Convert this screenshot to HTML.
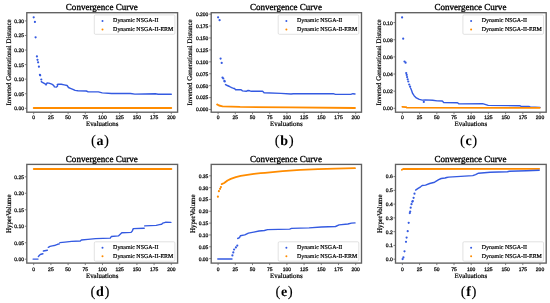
<!DOCTYPE html><html><head><meta charset="utf-8"><style>html,body{margin:0;padding:0;background:#fff;}svg{display:block;text-rendering:geometricPrecision;filter:blur(0.3px);}</style></head><body>
<svg width="550" height="303" viewBox="0 0 550 303">
<rect width="550" height="303" fill="#fff"/>
<clipPath id="clipa"><rect x="26.80" y="12.70" width="150.80" height="99.50"/></clipPath>
<g clip-path="url(#clipa)">
<polyline points="41.3,81.6 42.4,82.4 45.6,84.2 46.0,85.0 47.1,82.9 48.9,83.1 51.8,84.2 53.6,85.3 54.4,86.9 56.5,87.1 57.6,86.0 57.3,84.5 58.4,84.2 61.3,84.3 64.2,84.9 67.1,85.5 68.5,87.5 70.4,88.3 72.9,89.3 75.1,90.4 78.0,90.7 86.3,91.0 88.2,91.9 98.4,91.9 102.2,92.9 111.6,93.5 130.5,93.5 134.9,94.1 155.3,93.8 158.2,94.3 171.3,94.3" fill="none" stroke="#345ae1" stroke-width="1.4" stroke-linejoin="round" stroke-linecap="round"/>
<circle cx="33.7" cy="17.3" r="1.1" fill="#345ae1"/>
<circle cx="34.9" cy="21.9" r="1.1" fill="#345ae1"/>
<circle cx="35.6" cy="37.3" r="1.1" fill="#345ae1"/>
<circle cx="36.9" cy="56.4" r="1.1" fill="#345ae1"/>
<circle cx="37.5" cy="59.8" r="1.1" fill="#345ae1"/>
<circle cx="38.1" cy="62.3" r="1.1" fill="#345ae1"/>
<circle cx="38.9" cy="66.7" r="1.1" fill="#345ae1"/>
<circle cx="39.9" cy="74.8" r="1.1" fill="#345ae1"/>
<circle cx="40.2" cy="75.3" r="1.1" fill="#345ae1"/>
<circle cx="41.3" cy="79.5" r="1.1" fill="#345ae1"/>
<polyline points="33.7,108.0 171.3,108.0" fill="none" stroke="#ff8c00" stroke-width="1.8" stroke-linejoin="round" stroke-linecap="round"/>
</g>
<rect x="26.80" y="12.70" width="150.80" height="99.50" fill="none" stroke="#606060" stroke-width="1.35"/>
<line x1="33.70" y1="112.20" x2="33.70" y2="114.20" stroke="#606060" stroke-width="0.8"/>
<text x="33.70" y="119.10" font-family='"Liberation Sans", "DejaVu Sans", sans-serif' font-size="5.0" text-anchor="middle" fill="#111" stroke="#111" stroke-width="0.28">0</text>
<line x1="50.90" y1="112.20" x2="50.90" y2="114.20" stroke="#606060" stroke-width="0.8"/>
<text x="50.90" y="119.10" font-family='"Liberation Sans", "DejaVu Sans", sans-serif' font-size="5.0" text-anchor="middle" fill="#111" stroke="#111" stroke-width="0.28">25</text>
<line x1="68.10" y1="112.20" x2="68.10" y2="114.20" stroke="#606060" stroke-width="0.8"/>
<text x="68.10" y="119.10" font-family='"Liberation Sans", "DejaVu Sans", sans-serif' font-size="5.0" text-anchor="middle" fill="#111" stroke="#111" stroke-width="0.28">50</text>
<line x1="85.30" y1="112.20" x2="85.30" y2="114.20" stroke="#606060" stroke-width="0.8"/>
<text x="85.30" y="119.10" font-family='"Liberation Sans", "DejaVu Sans", sans-serif' font-size="5.0" text-anchor="middle" fill="#111" stroke="#111" stroke-width="0.28">75</text>
<line x1="102.50" y1="112.20" x2="102.50" y2="114.20" stroke="#606060" stroke-width="0.8"/>
<text x="102.50" y="119.10" font-family='"Liberation Sans", "DejaVu Sans", sans-serif' font-size="5.0" text-anchor="middle" fill="#111" stroke="#111" stroke-width="0.28">100</text>
<line x1="119.70" y1="112.20" x2="119.70" y2="114.20" stroke="#606060" stroke-width="0.8"/>
<text x="119.70" y="119.10" font-family='"Liberation Sans", "DejaVu Sans", sans-serif' font-size="5.0" text-anchor="middle" fill="#111" stroke="#111" stroke-width="0.28">125</text>
<line x1="136.90" y1="112.20" x2="136.90" y2="114.20" stroke="#606060" stroke-width="0.8"/>
<text x="136.90" y="119.10" font-family='"Liberation Sans", "DejaVu Sans", sans-serif' font-size="5.0" text-anchor="middle" fill="#111" stroke="#111" stroke-width="0.28">150</text>
<line x1="154.10" y1="112.20" x2="154.10" y2="114.20" stroke="#606060" stroke-width="0.8"/>
<text x="154.10" y="119.10" font-family='"Liberation Sans", "DejaVu Sans", sans-serif' font-size="5.0" text-anchor="middle" fill="#111" stroke="#111" stroke-width="0.28">175</text>
<line x1="171.30" y1="112.20" x2="171.30" y2="114.20" stroke="#606060" stroke-width="0.8"/>
<text x="171.30" y="119.10" font-family='"Liberation Sans", "DejaVu Sans", sans-serif' font-size="5.0" text-anchor="middle" fill="#111" stroke="#111" stroke-width="0.28">200</text>
<line x1="24.80" y1="108.30" x2="26.80" y2="108.30" stroke="#606060" stroke-width="0.8"/>
<text x="24.00" y="110.20" font-family='"Liberation Sans", "DejaVu Sans", sans-serif' font-size="5.0" text-anchor="end" fill="#111" stroke="#111" stroke-width="0.28">0.00</text>
<line x1="24.80" y1="93.73" x2="26.80" y2="93.73" stroke="#606060" stroke-width="0.8"/>
<text x="24.00" y="95.64" font-family='"Liberation Sans", "DejaVu Sans", sans-serif' font-size="5.0" text-anchor="end" fill="#111" stroke="#111" stroke-width="0.28">0.05</text>
<line x1="24.80" y1="79.17" x2="26.80" y2="79.17" stroke="#606060" stroke-width="0.8"/>
<text x="24.00" y="81.07" font-family='"Liberation Sans", "DejaVu Sans", sans-serif' font-size="5.0" text-anchor="end" fill="#111" stroke="#111" stroke-width="0.28">0.10</text>
<line x1="24.80" y1="64.60" x2="26.80" y2="64.60" stroke="#606060" stroke-width="0.8"/>
<text x="24.00" y="66.50" font-family='"Liberation Sans", "DejaVu Sans", sans-serif' font-size="5.0" text-anchor="end" fill="#111" stroke="#111" stroke-width="0.28">0.15</text>
<line x1="24.80" y1="50.04" x2="26.80" y2="50.04" stroke="#606060" stroke-width="0.8"/>
<text x="24.00" y="51.94" font-family='"Liberation Sans", "DejaVu Sans", sans-serif' font-size="5.0" text-anchor="end" fill="#111" stroke="#111" stroke-width="0.28">0.20</text>
<line x1="24.80" y1="35.47" x2="26.80" y2="35.47" stroke="#606060" stroke-width="0.8"/>
<text x="24.00" y="37.37" font-family='"Liberation Sans", "DejaVu Sans", sans-serif' font-size="5.0" text-anchor="end" fill="#111" stroke="#111" stroke-width="0.28">0.25</text>
<line x1="24.80" y1="20.91" x2="26.80" y2="20.91" stroke="#606060" stroke-width="0.8"/>
<text x="24.00" y="22.81" font-family='"Liberation Sans", "DejaVu Sans", sans-serif' font-size="5.0" text-anchor="end" fill="#111" stroke="#111" stroke-width="0.28">0.30</text>
<text x="101.80" y="10.10" font-family='"Liberation Serif", "Times New Roman", serif' font-size="9.05" text-anchor="middle" fill="#000" stroke="#000" stroke-width="0.3">Convergence Curve</text>
<text x="102.20" y="126.40" font-family='"Liberation Serif", "Times New Roman", serif' font-size="6.9" text-anchor="middle" fill="#000" stroke="#000" stroke-width="0.2">Evaluations</text>
<text transform="translate(10.90,62.45) rotate(-90)" x="0" y="0" font-family='"Liberation Serif", "Times New Roman", serif' font-size="6.9" text-anchor="middle" fill="#000" stroke="#000" stroke-width="0.2">Inverted Generational Distance</text>
<rect x="94.30" y="14.90" width="80.6" height="19.4" rx="1.2" fill="#fff" fill-opacity="0.8" stroke="#d6d6d6" stroke-width="0.7"/>
<circle cx="102.50" cy="20.90" r="1.0" fill="#345ae1"/>
<circle cx="102.50" cy="29.40" r="1.0" fill="#ff8c00"/>
<text x="113.10" y="22.40" font-family='"Liberation Serif", "Times New Roman", serif' font-size="5.95" fill="#000" stroke="#000" stroke-width="0.18">Dynamic NSGA-II</text>
<text x="113.10" y="30.60" font-family='"Liberation Serif", "Times New Roman", serif' font-size="5.95" fill="#000" stroke="#000" stroke-width="0.18">Dynamic NSGA-II-ERM</text>
<text x="100.00" y="144.90" font-family='"Liberation Serif", "Times New Roman", serif' font-size="14.8" text-anchor="middle" fill="#000" stroke="#000" stroke-width="0.08">(<tspan dx="0.6" font-size="14" font-weight="bold" stroke-width="0.05">a</tspan><tspan dx="0.6">)</tspan></text>
<clipPath id="clipb"><rect x="211.20" y="12.70" width="150.30" height="99.50"/></clipPath>
<g clip-path="url(#clipb)">
<polyline points="225.5,84.6 227.3,85.5 229.5,86.5 231.6,87.6 233.1,88.2 234.5,88.5 235.6,89.7 241.1,89.8 242.5,90.9 246.2,91.3 248.0,90.5 249.8,90.8 251.3,91.3 262.6,91.3 264.1,92.8 280.8,93.4 291.0,94.0 293.4,93.7 333.3,93.7 335.4,94.4 350.8,94.4 352.9,93.7 355.0,94.0" fill="none" stroke="#345ae1" stroke-width="1.4" stroke-linejoin="round" stroke-linecap="round"/>
<circle cx="218.1" cy="17.3" r="1.1" fill="#345ae1"/>
<circle cx="219.6" cy="20.2" r="1.1" fill="#345ae1"/>
<circle cx="220.6" cy="58.6" r="1.1" fill="#345ae1"/>
<circle cx="221.7" cy="62.9" r="1.1" fill="#345ae1"/>
<circle cx="222.5" cy="77.6" r="1.1" fill="#345ae1"/>
<circle cx="223.3" cy="78.5" r="1.1" fill="#345ae1"/>
<circle cx="224.4" cy="80.9" r="1.1" fill="#345ae1"/>
<circle cx="224.7" cy="81.5" r="1.1" fill="#345ae1"/>
<polyline points="217.1,104.4 219.0,105.5 222.6,106.3 240.1,106.9 291.0,107.4 355.0,108.0" fill="none" stroke="#ff8c00" stroke-width="1.8" stroke-linejoin="round" stroke-linecap="round"/>
</g>
<rect x="211.20" y="12.70" width="150.30" height="99.50" fill="none" stroke="#606060" stroke-width="1.35"/>
<line x1="218.10" y1="112.20" x2="218.10" y2="114.20" stroke="#606060" stroke-width="0.8"/>
<text x="218.10" y="119.10" font-family='"Liberation Sans", "DejaVu Sans", sans-serif' font-size="5.0" text-anchor="middle" fill="#111" stroke="#111" stroke-width="0.28">0</text>
<line x1="235.30" y1="112.20" x2="235.30" y2="114.20" stroke="#606060" stroke-width="0.8"/>
<text x="235.30" y="119.10" font-family='"Liberation Sans", "DejaVu Sans", sans-serif' font-size="5.0" text-anchor="middle" fill="#111" stroke="#111" stroke-width="0.28">25</text>
<line x1="252.50" y1="112.20" x2="252.50" y2="114.20" stroke="#606060" stroke-width="0.8"/>
<text x="252.50" y="119.10" font-family='"Liberation Sans", "DejaVu Sans", sans-serif' font-size="5.0" text-anchor="middle" fill="#111" stroke="#111" stroke-width="0.28">50</text>
<line x1="269.70" y1="112.20" x2="269.70" y2="114.20" stroke="#606060" stroke-width="0.8"/>
<text x="269.70" y="119.10" font-family='"Liberation Sans", "DejaVu Sans", sans-serif' font-size="5.0" text-anchor="middle" fill="#111" stroke="#111" stroke-width="0.28">75</text>
<line x1="286.90" y1="112.20" x2="286.90" y2="114.20" stroke="#606060" stroke-width="0.8"/>
<text x="286.90" y="119.10" font-family='"Liberation Sans", "DejaVu Sans", sans-serif' font-size="5.0" text-anchor="middle" fill="#111" stroke="#111" stroke-width="0.28">100</text>
<line x1="304.10" y1="112.20" x2="304.10" y2="114.20" stroke="#606060" stroke-width="0.8"/>
<text x="304.10" y="119.10" font-family='"Liberation Sans", "DejaVu Sans", sans-serif' font-size="5.0" text-anchor="middle" fill="#111" stroke="#111" stroke-width="0.28">125</text>
<line x1="321.30" y1="112.20" x2="321.30" y2="114.20" stroke="#606060" stroke-width="0.8"/>
<text x="321.30" y="119.10" font-family='"Liberation Sans", "DejaVu Sans", sans-serif' font-size="5.0" text-anchor="middle" fill="#111" stroke="#111" stroke-width="0.28">150</text>
<line x1="338.50" y1="112.20" x2="338.50" y2="114.20" stroke="#606060" stroke-width="0.8"/>
<text x="338.50" y="119.10" font-family='"Liberation Sans", "DejaVu Sans", sans-serif' font-size="5.0" text-anchor="middle" fill="#111" stroke="#111" stroke-width="0.28">175</text>
<line x1="355.70" y1="112.20" x2="355.70" y2="114.20" stroke="#606060" stroke-width="0.8"/>
<text x="355.70" y="119.10" font-family='"Liberation Sans", "DejaVu Sans", sans-serif' font-size="5.0" text-anchor="middle" fill="#111" stroke="#111" stroke-width="0.28">200</text>
<line x1="209.20" y1="109.50" x2="211.20" y2="109.50" stroke="#606060" stroke-width="0.8"/>
<text x="208.40" y="111.40" font-family='"Liberation Sans", "DejaVu Sans", sans-serif' font-size="5.0" text-anchor="end" fill="#111" stroke="#111" stroke-width="0.28">0.000</text>
<line x1="209.20" y1="97.58" x2="211.20" y2="97.58" stroke="#606060" stroke-width="0.8"/>
<text x="208.40" y="99.48" font-family='"Liberation Sans", "DejaVu Sans", sans-serif' font-size="5.0" text-anchor="end" fill="#111" stroke="#111" stroke-width="0.28">0.025</text>
<line x1="209.20" y1="85.65" x2="211.20" y2="85.65" stroke="#606060" stroke-width="0.8"/>
<text x="208.40" y="87.55" font-family='"Liberation Sans", "DejaVu Sans", sans-serif' font-size="5.0" text-anchor="end" fill="#111" stroke="#111" stroke-width="0.28">0.050</text>
<line x1="209.20" y1="73.72" x2="211.20" y2="73.72" stroke="#606060" stroke-width="0.8"/>
<text x="208.40" y="75.62" font-family='"Liberation Sans", "DejaVu Sans", sans-serif' font-size="5.0" text-anchor="end" fill="#111" stroke="#111" stroke-width="0.28">0.075</text>
<line x1="209.20" y1="61.80" x2="211.20" y2="61.80" stroke="#606060" stroke-width="0.8"/>
<text x="208.40" y="63.70" font-family='"Liberation Sans", "DejaVu Sans", sans-serif' font-size="5.0" text-anchor="end" fill="#111" stroke="#111" stroke-width="0.28">0.100</text>
<line x1="209.20" y1="49.88" x2="211.20" y2="49.88" stroke="#606060" stroke-width="0.8"/>
<text x="208.40" y="51.77" font-family='"Liberation Sans", "DejaVu Sans", sans-serif' font-size="5.0" text-anchor="end" fill="#111" stroke="#111" stroke-width="0.28">0.125</text>
<line x1="209.20" y1="37.95" x2="211.20" y2="37.95" stroke="#606060" stroke-width="0.8"/>
<text x="208.40" y="39.85" font-family='"Liberation Sans", "DejaVu Sans", sans-serif' font-size="5.0" text-anchor="end" fill="#111" stroke="#111" stroke-width="0.28">0.150</text>
<line x1="209.20" y1="26.02" x2="211.20" y2="26.02" stroke="#606060" stroke-width="0.8"/>
<text x="208.40" y="27.92" font-family='"Liberation Sans", "DejaVu Sans", sans-serif' font-size="5.0" text-anchor="end" fill="#111" stroke="#111" stroke-width="0.28">0.175</text>
<line x1="209.20" y1="14.10" x2="211.20" y2="14.10" stroke="#606060" stroke-width="0.8"/>
<text x="208.40" y="16.00" font-family='"Liberation Sans", "DejaVu Sans", sans-serif' font-size="5.0" text-anchor="end" fill="#111" stroke="#111" stroke-width="0.28">0.200</text>
<text x="285.95" y="10.10" font-family='"Liberation Serif", "Times New Roman", serif' font-size="9.05" text-anchor="middle" fill="#000" stroke="#000" stroke-width="0.3">Convergence Curve</text>
<text x="286.35" y="126.40" font-family='"Liberation Serif", "Times New Roman", serif' font-size="6.9" text-anchor="middle" fill="#000" stroke="#000" stroke-width="0.2">Evaluations</text>
<text transform="translate(191.50,62.45) rotate(-90)" x="0" y="0" font-family='"Liberation Serif", "Times New Roman", serif' font-size="6.9" text-anchor="middle" fill="#000" stroke="#000" stroke-width="0.2">Inverted Generational Distance</text>
<rect x="278.20" y="14.90" width="80.6" height="19.4" rx="1.2" fill="#fff" fill-opacity="0.8" stroke="#d6d6d6" stroke-width="0.7"/>
<circle cx="286.40" cy="20.90" r="1.0" fill="#345ae1"/>
<circle cx="286.40" cy="29.40" r="1.0" fill="#ff8c00"/>
<text x="297.00" y="22.40" font-family='"Liberation Serif", "Times New Roman", serif' font-size="5.95" fill="#000" stroke="#000" stroke-width="0.18">Dynamic NSGA-II</text>
<text x="297.00" y="30.60" font-family='"Liberation Serif", "Times New Roman", serif' font-size="5.95" fill="#000" stroke="#000" stroke-width="0.18">Dynamic NSGA-II-ERM</text>
<text x="284.15" y="144.90" font-family='"Liberation Serif", "Times New Roman", serif' font-size="14.8" text-anchor="middle" fill="#000" stroke="#000" stroke-width="0.08">(<tspan dx="0.6" font-size="14" font-weight="bold" stroke-width="0.05">b</tspan><tspan dx="0.6">)</tspan></text>
<clipPath id="clipc"><rect x="395.50" y="12.70" width="150.70" height="99.50"/></clipPath>
<g clip-path="url(#clipc)">
<polyline points="410.7,88.2 411.6,90.5 412.6,93.4 414.1,95.7 416.3,97.9 419.3,99.4 422.3,100.1 425.3,99.9 432.7,100.2 437.1,100.9 442.3,101.0 443.7,102.5 457.5,102.7 459.0,103.9 482.6,103.6 488.2,105.4 519.7,105.7 521.1,106.4 528.8,106.4 530.2,107.0 540.0,107.4" fill="none" stroke="#345ae1" stroke-width="1.4" stroke-linejoin="round" stroke-linecap="round"/>
<circle cx="402.1" cy="17.4" r="1.1" fill="#345ae1"/>
<circle cx="403.2" cy="38.7" r="1.1" fill="#345ae1"/>
<circle cx="404.5" cy="61.5" r="1.1" fill="#345ae1"/>
<circle cx="405.6" cy="62.7" r="1.1" fill="#345ae1"/>
<circle cx="406.2" cy="73.1" r="1.1" fill="#345ae1"/>
<circle cx="406.7" cy="74.9" r="1.1" fill="#345ae1"/>
<circle cx="407.1" cy="77.1" r="1.1" fill="#345ae1"/>
<circle cx="407.7" cy="79.3" r="1.1" fill="#345ae1"/>
<circle cx="408.3" cy="81.5" r="1.1" fill="#345ae1"/>
<circle cx="409.2" cy="84.5" r="1.1" fill="#345ae1"/>
<circle cx="410.1" cy="86.7" r="1.1" fill="#345ae1"/>
<circle cx="423.8" cy="101.9" r="1.1" fill="#345ae1"/>
<polyline points="402.3,106.8 405.9,107.1 406.6,107.6 539.6,107.9" fill="none" stroke="#ff8c00" stroke-width="1.8" stroke-linejoin="round" stroke-linecap="round"/>
</g>
<rect x="395.50" y="12.70" width="150.70" height="99.50" fill="none" stroke="#606060" stroke-width="1.35"/>
<line x1="402.40" y1="112.20" x2="402.40" y2="114.20" stroke="#606060" stroke-width="0.8"/>
<text x="402.40" y="119.10" font-family='"Liberation Sans", "DejaVu Sans", sans-serif' font-size="5.0" text-anchor="middle" fill="#111" stroke="#111" stroke-width="0.28">0</text>
<line x1="419.60" y1="112.20" x2="419.60" y2="114.20" stroke="#606060" stroke-width="0.8"/>
<text x="419.60" y="119.10" font-family='"Liberation Sans", "DejaVu Sans", sans-serif' font-size="5.0" text-anchor="middle" fill="#111" stroke="#111" stroke-width="0.28">25</text>
<line x1="436.80" y1="112.20" x2="436.80" y2="114.20" stroke="#606060" stroke-width="0.8"/>
<text x="436.80" y="119.10" font-family='"Liberation Sans", "DejaVu Sans", sans-serif' font-size="5.0" text-anchor="middle" fill="#111" stroke="#111" stroke-width="0.28">50</text>
<line x1="454.00" y1="112.20" x2="454.00" y2="114.20" stroke="#606060" stroke-width="0.8"/>
<text x="454.00" y="119.10" font-family='"Liberation Sans", "DejaVu Sans", sans-serif' font-size="5.0" text-anchor="middle" fill="#111" stroke="#111" stroke-width="0.28">75</text>
<line x1="471.20" y1="112.20" x2="471.20" y2="114.20" stroke="#606060" stroke-width="0.8"/>
<text x="471.20" y="119.10" font-family='"Liberation Sans", "DejaVu Sans", sans-serif' font-size="5.0" text-anchor="middle" fill="#111" stroke="#111" stroke-width="0.28">100</text>
<line x1="488.40" y1="112.20" x2="488.40" y2="114.20" stroke="#606060" stroke-width="0.8"/>
<text x="488.40" y="119.10" font-family='"Liberation Sans", "DejaVu Sans", sans-serif' font-size="5.0" text-anchor="middle" fill="#111" stroke="#111" stroke-width="0.28">125</text>
<line x1="505.60" y1="112.20" x2="505.60" y2="114.20" stroke="#606060" stroke-width="0.8"/>
<text x="505.60" y="119.10" font-family='"Liberation Sans", "DejaVu Sans", sans-serif' font-size="5.0" text-anchor="middle" fill="#111" stroke="#111" stroke-width="0.28">150</text>
<line x1="522.80" y1="112.20" x2="522.80" y2="114.20" stroke="#606060" stroke-width="0.8"/>
<text x="522.80" y="119.10" font-family='"Liberation Sans", "DejaVu Sans", sans-serif' font-size="5.0" text-anchor="middle" fill="#111" stroke="#111" stroke-width="0.28">175</text>
<line x1="540.00" y1="112.20" x2="540.00" y2="114.20" stroke="#606060" stroke-width="0.8"/>
<text x="540.00" y="119.10" font-family='"Liberation Sans", "DejaVu Sans", sans-serif' font-size="5.0" text-anchor="middle" fill="#111" stroke="#111" stroke-width="0.28">200</text>
<line x1="393.50" y1="108.30" x2="395.50" y2="108.30" stroke="#606060" stroke-width="0.8"/>
<text x="392.70" y="110.20" font-family='"Liberation Sans", "DejaVu Sans", sans-serif' font-size="5.0" text-anchor="end" fill="#111" stroke="#111" stroke-width="0.28">0.00</text>
<line x1="393.50" y1="91.16" x2="395.50" y2="91.16" stroke="#606060" stroke-width="0.8"/>
<text x="392.70" y="93.06" font-family='"Liberation Sans", "DejaVu Sans", sans-serif' font-size="5.0" text-anchor="end" fill="#111" stroke="#111" stroke-width="0.28">0.02</text>
<line x1="393.50" y1="74.02" x2="395.50" y2="74.02" stroke="#606060" stroke-width="0.8"/>
<text x="392.70" y="75.92" font-family='"Liberation Sans", "DejaVu Sans", sans-serif' font-size="5.0" text-anchor="end" fill="#111" stroke="#111" stroke-width="0.28">0.04</text>
<line x1="393.50" y1="56.88" x2="395.50" y2="56.88" stroke="#606060" stroke-width="0.8"/>
<text x="392.70" y="58.78" font-family='"Liberation Sans", "DejaVu Sans", sans-serif' font-size="5.0" text-anchor="end" fill="#111" stroke="#111" stroke-width="0.28">0.06</text>
<line x1="393.50" y1="39.74" x2="395.50" y2="39.74" stroke="#606060" stroke-width="0.8"/>
<text x="392.70" y="41.64" font-family='"Liberation Sans", "DejaVu Sans", sans-serif' font-size="5.0" text-anchor="end" fill="#111" stroke="#111" stroke-width="0.28">0.08</text>
<line x1="393.50" y1="22.60" x2="395.50" y2="22.60" stroke="#606060" stroke-width="0.8"/>
<text x="392.70" y="24.50" font-family='"Liberation Sans", "DejaVu Sans", sans-serif' font-size="5.0" text-anchor="end" fill="#111" stroke="#111" stroke-width="0.28">0.10</text>
<text x="470.45" y="10.10" font-family='"Liberation Serif", "Times New Roman", serif' font-size="9.05" text-anchor="middle" fill="#000" stroke="#000" stroke-width="0.3">Convergence Curve</text>
<text x="470.85" y="126.40" font-family='"Liberation Serif", "Times New Roman", serif' font-size="6.9" text-anchor="middle" fill="#000" stroke="#000" stroke-width="0.2">Evaluations</text>
<text transform="translate(380.50,62.45) rotate(-90)" x="0" y="0" font-family='"Liberation Serif", "Times New Roman", serif' font-size="6.9" text-anchor="middle" fill="#000" stroke="#000" stroke-width="0.2">Inverted Generational Distance</text>
<rect x="462.90" y="14.90" width="80.6" height="19.4" rx="1.2" fill="#fff" fill-opacity="0.8" stroke="#d6d6d6" stroke-width="0.7"/>
<circle cx="471.10" cy="20.90" r="1.0" fill="#345ae1"/>
<circle cx="471.10" cy="29.40" r="1.0" fill="#ff8c00"/>
<text x="481.70" y="22.40" font-family='"Liberation Serif", "Times New Roman", serif' font-size="5.95" fill="#000" stroke="#000" stroke-width="0.18">Dynamic NSGA-II</text>
<text x="481.70" y="30.60" font-family='"Liberation Serif", "Times New Roman", serif' font-size="5.95" fill="#000" stroke="#000" stroke-width="0.18">Dynamic NSGA-II-ERM</text>
<text x="468.65" y="144.90" font-family='"Liberation Serif", "Times New Roman", serif' font-size="14.8" text-anchor="middle" fill="#000" stroke="#000" stroke-width="0.08">(<tspan dx="0.6" font-size="14" font-weight="bold" stroke-width="0.05">c</tspan><tspan dx="0.6">)</tspan></text>
<clipPath id="clipd"><rect x="26.80" y="164.40" width="150.80" height="98.70"/></clipPath>
<g clip-path="url(#clipd)">
<polyline points="33.1,259.1 38.0,259.1" fill="none" stroke="#345ae1" stroke-width="1.4" stroke-linejoin="round" stroke-linecap="round"/>
<polyline points="38.4,256.4 39.7,255.0 41.0,254.2 42.9,253.7" fill="none" stroke="#345ae1" stroke-width="1.4" stroke-linejoin="round" stroke-linecap="round"/>
<polyline points="43.4,251.0 47.4,250.2" fill="none" stroke="#345ae1" stroke-width="1.4" stroke-linejoin="round" stroke-linecap="round"/>
<polyline points="48.3,247.3 50.0,246.4 52.3,245.9 55.4,245.2 57.6,244.3 59.4,243.9" fill="none" stroke="#345ae1" stroke-width="1.4" stroke-linejoin="round" stroke-linecap="round"/>
<polyline points="59.9,242.6 65.0,242.1 71.5,241.4 80.3,241.0 81.4,240.0 87.9,239.4 95.5,238.6 110.3,238.1 111.3,236.5 118.4,235.9 121.8,232.8 131.1,232.4 132.2,231.1 133.3,228.6 144.2,228.3" fill="none" stroke="#345ae1" stroke-width="1.4" stroke-linejoin="round" stroke-linecap="round"/>
<polyline points="144.7,225.9 156.2,225.4 159.4,224.6 161.6,224.3 162.7,223.2 165.4,222.3 170.9,222.4" fill="none" stroke="#345ae1" stroke-width="1.4" stroke-linejoin="round" stroke-linecap="round"/>
<polyline points="33.8,169.1 171.3,169.1" fill="none" stroke="#ff8c00" stroke-width="2.0" stroke-linejoin="round" stroke-linecap="round"/>
</g>
<rect x="26.80" y="164.40" width="150.80" height="98.70" fill="none" stroke="#606060" stroke-width="1.35"/>
<line x1="33.70" y1="263.10" x2="33.70" y2="265.10" stroke="#606060" stroke-width="0.8"/>
<text x="33.70" y="270.50" font-family='"Liberation Sans", "DejaVu Sans", sans-serif' font-size="5.0" text-anchor="middle" fill="#111" stroke="#111" stroke-width="0.28">0</text>
<line x1="50.90" y1="263.10" x2="50.90" y2="265.10" stroke="#606060" stroke-width="0.8"/>
<text x="50.90" y="270.50" font-family='"Liberation Sans", "DejaVu Sans", sans-serif' font-size="5.0" text-anchor="middle" fill="#111" stroke="#111" stroke-width="0.28">25</text>
<line x1="68.10" y1="263.10" x2="68.10" y2="265.10" stroke="#606060" stroke-width="0.8"/>
<text x="68.10" y="270.50" font-family='"Liberation Sans", "DejaVu Sans", sans-serif' font-size="5.0" text-anchor="middle" fill="#111" stroke="#111" stroke-width="0.28">50</text>
<line x1="85.30" y1="263.10" x2="85.30" y2="265.10" stroke="#606060" stroke-width="0.8"/>
<text x="85.30" y="270.50" font-family='"Liberation Sans", "DejaVu Sans", sans-serif' font-size="5.0" text-anchor="middle" fill="#111" stroke="#111" stroke-width="0.28">75</text>
<line x1="102.50" y1="263.10" x2="102.50" y2="265.10" stroke="#606060" stroke-width="0.8"/>
<text x="102.50" y="270.50" font-family='"Liberation Sans", "DejaVu Sans", sans-serif' font-size="5.0" text-anchor="middle" fill="#111" stroke="#111" stroke-width="0.28">100</text>
<line x1="119.70" y1="263.10" x2="119.70" y2="265.10" stroke="#606060" stroke-width="0.8"/>
<text x="119.70" y="270.50" font-family='"Liberation Sans", "DejaVu Sans", sans-serif' font-size="5.0" text-anchor="middle" fill="#111" stroke="#111" stroke-width="0.28">125</text>
<line x1="136.90" y1="263.10" x2="136.90" y2="265.10" stroke="#606060" stroke-width="0.8"/>
<text x="136.90" y="270.50" font-family='"Liberation Sans", "DejaVu Sans", sans-serif' font-size="5.0" text-anchor="middle" fill="#111" stroke="#111" stroke-width="0.28">150</text>
<line x1="154.10" y1="263.10" x2="154.10" y2="265.10" stroke="#606060" stroke-width="0.8"/>
<text x="154.10" y="270.50" font-family='"Liberation Sans", "DejaVu Sans", sans-serif' font-size="5.0" text-anchor="middle" fill="#111" stroke="#111" stroke-width="0.28">175</text>
<line x1="171.30" y1="263.10" x2="171.30" y2="265.10" stroke="#606060" stroke-width="0.8"/>
<text x="171.30" y="270.50" font-family='"Liberation Sans", "DejaVu Sans", sans-serif' font-size="5.0" text-anchor="middle" fill="#111" stroke="#111" stroke-width="0.28">200</text>
<line x1="24.80" y1="259.20" x2="26.80" y2="259.20" stroke="#606060" stroke-width="0.8"/>
<text x="24.00" y="261.10" font-family='"Liberation Sans", "DejaVu Sans", sans-serif' font-size="5.0" text-anchor="end" fill="#111" stroke="#111" stroke-width="0.28">0.00</text>
<line x1="24.80" y1="242.72" x2="26.80" y2="242.72" stroke="#606060" stroke-width="0.8"/>
<text x="24.00" y="244.62" font-family='"Liberation Sans", "DejaVu Sans", sans-serif' font-size="5.0" text-anchor="end" fill="#111" stroke="#111" stroke-width="0.28">0.05</text>
<line x1="24.80" y1="226.24" x2="26.80" y2="226.24" stroke="#606060" stroke-width="0.8"/>
<text x="24.00" y="228.14" font-family='"Liberation Sans", "DejaVu Sans", sans-serif' font-size="5.0" text-anchor="end" fill="#111" stroke="#111" stroke-width="0.28">0.10</text>
<line x1="24.80" y1="209.76" x2="26.80" y2="209.76" stroke="#606060" stroke-width="0.8"/>
<text x="24.00" y="211.66" font-family='"Liberation Sans", "DejaVu Sans", sans-serif' font-size="5.0" text-anchor="end" fill="#111" stroke="#111" stroke-width="0.28">0.15</text>
<line x1="24.80" y1="193.28" x2="26.80" y2="193.28" stroke="#606060" stroke-width="0.8"/>
<text x="24.00" y="195.18" font-family='"Liberation Sans", "DejaVu Sans", sans-serif' font-size="5.0" text-anchor="end" fill="#111" stroke="#111" stroke-width="0.28">0.20</text>
<line x1="24.80" y1="176.80" x2="26.80" y2="176.80" stroke="#606060" stroke-width="0.8"/>
<text x="24.00" y="178.70" font-family='"Liberation Sans", "DejaVu Sans", sans-serif' font-size="5.0" text-anchor="end" fill="#111" stroke="#111" stroke-width="0.28">0.25</text>
<text x="101.80" y="161.80" font-family='"Liberation Serif", "Times New Roman", serif' font-size="9.05" text-anchor="middle" fill="#000" stroke="#000" stroke-width="0.3">Convergence Curve</text>
<text x="102.20" y="277.80" font-family='"Liberation Serif", "Times New Roman", serif' font-size="6.9" text-anchor="middle" fill="#000" stroke="#000" stroke-width="0.2">Evaluations</text>
<text transform="translate(10.90,213.75) rotate(-90)" x="0" y="0" font-family='"Liberation Serif", "Times New Roman", serif' font-size="6.9" text-anchor="middle" fill="#000" stroke="#000" stroke-width="0.2">HyperVolume</text>
<rect x="94.30" y="241.80" width="80.6" height="19.4" rx="1.2" fill="#fff" fill-opacity="0.8" stroke="#d6d6d6" stroke-width="0.7"/>
<circle cx="102.50" cy="247.80" r="1.0" fill="#345ae1"/>
<circle cx="102.50" cy="256.30" r="1.0" fill="#ff8c00"/>
<text x="113.10" y="249.30" font-family='"Liberation Serif", "Times New Roman", serif' font-size="5.95" fill="#000" stroke="#000" stroke-width="0.18">Dynamic NSGA-II</text>
<text x="113.10" y="257.50" font-family='"Liberation Serif", "Times New Roman", serif' font-size="5.95" fill="#000" stroke="#000" stroke-width="0.18">Dynamic NSGA-II-ERM</text>
<text x="100.00" y="295.80" font-family='"Liberation Serif", "Times New Roman", serif' font-size="14.8" text-anchor="middle" fill="#000" stroke="#000" stroke-width="0.08">(<tspan dx="0.6" font-size="14" font-weight="bold" stroke-width="0.05">d</tspan><tspan dx="0.6">)</tspan></text>
<clipPath id="clipe"><rect x="211.20" y="164.40" width="150.30" height="98.70"/></clipPath>
<g clip-path="url(#clipe)">
<polyline points="221.7,184.1 224.2,183.0 227.5,180.5 230.8,178.9 235.8,177.2 240.7,175.9 247.3,174.9 253.9,173.9 260.5,173.2 265.0,172.8 282.6,171.1 300.3,169.8 317.9,169.1 335.5,168.6 355.0,168.2" fill="none" stroke="#ff8c00" stroke-width="1.8" stroke-linejoin="round" stroke-linecap="round"/>
<circle cx="217.9" cy="196.7" r="1.1" fill="#ff8c00"/>
<circle cx="218.9" cy="191.2" r="1.1" fill="#ff8c00"/>
<circle cx="220.1" cy="188.8" r="1.1" fill="#ff8c00"/>
<circle cx="220.9" cy="187.1" r="1.1" fill="#ff8c00"/>
<polyline points="217.8,259.0 232.0,259.0" fill="none" stroke="#345ae1" stroke-width="1.4" stroke-linejoin="round" stroke-linecap="round"/>
<polyline points="237.7,238.5 239.5,237.6 240.4,235.8 244.8,234.9 248.4,233.1 253.7,232.1 259.1,231.0 264.4,230.5 267.6,229.6 289.7,229.1 291.5,228.4 309.1,227.9 321.4,227.0 335.5,226.5 339.1,224.9 347.9,224.0 351.4,223.1 355.0,222.9" fill="none" stroke="#345ae1" stroke-width="1.4" stroke-linejoin="round" stroke-linecap="round"/>
<circle cx="232.4" cy="255.4" r="1.1" fill="#345ae1"/>
<circle cx="233.3" cy="252.4" r="1.1" fill="#345ae1"/>
<circle cx="234.1" cy="249.5" r="1.1" fill="#345ae1"/>
<circle cx="235.9" cy="247.4" r="1.1" fill="#345ae1"/>
<circle cx="237.3" cy="245.6" r="1.1" fill="#345ae1"/>
</g>
<rect x="211.20" y="164.40" width="150.30" height="98.70" fill="none" stroke="#606060" stroke-width="1.35"/>
<line x1="218.10" y1="263.10" x2="218.10" y2="265.10" stroke="#606060" stroke-width="0.8"/>
<text x="218.10" y="270.50" font-family='"Liberation Sans", "DejaVu Sans", sans-serif' font-size="5.0" text-anchor="middle" fill="#111" stroke="#111" stroke-width="0.28">0</text>
<line x1="235.30" y1="263.10" x2="235.30" y2="265.10" stroke="#606060" stroke-width="0.8"/>
<text x="235.30" y="270.50" font-family='"Liberation Sans", "DejaVu Sans", sans-serif' font-size="5.0" text-anchor="middle" fill="#111" stroke="#111" stroke-width="0.28">25</text>
<line x1="252.50" y1="263.10" x2="252.50" y2="265.10" stroke="#606060" stroke-width="0.8"/>
<text x="252.50" y="270.50" font-family='"Liberation Sans", "DejaVu Sans", sans-serif' font-size="5.0" text-anchor="middle" fill="#111" stroke="#111" stroke-width="0.28">50</text>
<line x1="269.70" y1="263.10" x2="269.70" y2="265.10" stroke="#606060" stroke-width="0.8"/>
<text x="269.70" y="270.50" font-family='"Liberation Sans", "DejaVu Sans", sans-serif' font-size="5.0" text-anchor="middle" fill="#111" stroke="#111" stroke-width="0.28">75</text>
<line x1="286.90" y1="263.10" x2="286.90" y2="265.10" stroke="#606060" stroke-width="0.8"/>
<text x="286.90" y="270.50" font-family='"Liberation Sans", "DejaVu Sans", sans-serif' font-size="5.0" text-anchor="middle" fill="#111" stroke="#111" stroke-width="0.28">100</text>
<line x1="304.10" y1="263.10" x2="304.10" y2="265.10" stroke="#606060" stroke-width="0.8"/>
<text x="304.10" y="270.50" font-family='"Liberation Sans", "DejaVu Sans", sans-serif' font-size="5.0" text-anchor="middle" fill="#111" stroke="#111" stroke-width="0.28">125</text>
<line x1="321.30" y1="263.10" x2="321.30" y2="265.10" stroke="#606060" stroke-width="0.8"/>
<text x="321.30" y="270.50" font-family='"Liberation Sans", "DejaVu Sans", sans-serif' font-size="5.0" text-anchor="middle" fill="#111" stroke="#111" stroke-width="0.28">150</text>
<line x1="338.50" y1="263.10" x2="338.50" y2="265.10" stroke="#606060" stroke-width="0.8"/>
<text x="338.50" y="270.50" font-family='"Liberation Sans", "DejaVu Sans", sans-serif' font-size="5.0" text-anchor="middle" fill="#111" stroke="#111" stroke-width="0.28">175</text>
<line x1="355.70" y1="263.10" x2="355.70" y2="265.10" stroke="#606060" stroke-width="0.8"/>
<text x="355.70" y="270.50" font-family='"Liberation Sans", "DejaVu Sans", sans-serif' font-size="5.0" text-anchor="middle" fill="#111" stroke="#111" stroke-width="0.28">200</text>
<line x1="209.20" y1="258.60" x2="211.20" y2="258.60" stroke="#606060" stroke-width="0.8"/>
<text x="208.40" y="260.50" font-family='"Liberation Sans", "DejaVu Sans", sans-serif' font-size="5.0" text-anchor="end" fill="#111" stroke="#111" stroke-width="0.28">0.00</text>
<line x1="209.20" y1="246.77" x2="211.20" y2="246.77" stroke="#606060" stroke-width="0.8"/>
<text x="208.40" y="248.67" font-family='"Liberation Sans", "DejaVu Sans", sans-serif' font-size="5.0" text-anchor="end" fill="#111" stroke="#111" stroke-width="0.28">0.05</text>
<line x1="209.20" y1="234.94" x2="211.20" y2="234.94" stroke="#606060" stroke-width="0.8"/>
<text x="208.40" y="236.84" font-family='"Liberation Sans", "DejaVu Sans", sans-serif' font-size="5.0" text-anchor="end" fill="#111" stroke="#111" stroke-width="0.28">0.10</text>
<line x1="209.20" y1="223.11" x2="211.20" y2="223.11" stroke="#606060" stroke-width="0.8"/>
<text x="208.40" y="225.01" font-family='"Liberation Sans", "DejaVu Sans", sans-serif' font-size="5.0" text-anchor="end" fill="#111" stroke="#111" stroke-width="0.28">0.15</text>
<line x1="209.20" y1="211.28" x2="211.20" y2="211.28" stroke="#606060" stroke-width="0.8"/>
<text x="208.40" y="213.18" font-family='"Liberation Sans", "DejaVu Sans", sans-serif' font-size="5.0" text-anchor="end" fill="#111" stroke="#111" stroke-width="0.28">0.20</text>
<line x1="209.20" y1="199.45" x2="211.20" y2="199.45" stroke="#606060" stroke-width="0.8"/>
<text x="208.40" y="201.35" font-family='"Liberation Sans", "DejaVu Sans", sans-serif' font-size="5.0" text-anchor="end" fill="#111" stroke="#111" stroke-width="0.28">0.25</text>
<line x1="209.20" y1="187.62" x2="211.20" y2="187.62" stroke="#606060" stroke-width="0.8"/>
<text x="208.40" y="189.52" font-family='"Liberation Sans", "DejaVu Sans", sans-serif' font-size="5.0" text-anchor="end" fill="#111" stroke="#111" stroke-width="0.28">0.30</text>
<line x1="209.20" y1="175.79" x2="211.20" y2="175.79" stroke="#606060" stroke-width="0.8"/>
<text x="208.40" y="177.69" font-family='"Liberation Sans", "DejaVu Sans", sans-serif' font-size="5.0" text-anchor="end" fill="#111" stroke="#111" stroke-width="0.28">0.35</text>
<text x="285.95" y="161.80" font-family='"Liberation Serif", "Times New Roman", serif' font-size="9.05" text-anchor="middle" fill="#000" stroke="#000" stroke-width="0.3">Convergence Curve</text>
<text x="286.35" y="277.80" font-family='"Liberation Serif", "Times New Roman", serif' font-size="6.9" text-anchor="middle" fill="#000" stroke="#000" stroke-width="0.2">Evaluations</text>
<text transform="translate(195.00,213.75) rotate(-90)" x="0" y="0" font-family='"Liberation Serif", "Times New Roman", serif' font-size="6.9" text-anchor="middle" fill="#000" stroke="#000" stroke-width="0.2">HyperVolume</text>
<rect x="278.20" y="241.80" width="80.6" height="19.4" rx="1.2" fill="#fff" fill-opacity="0.8" stroke="#d6d6d6" stroke-width="0.7"/>
<circle cx="286.40" cy="247.80" r="1.0" fill="#345ae1"/>
<circle cx="286.40" cy="256.30" r="1.0" fill="#ff8c00"/>
<text x="297.00" y="249.30" font-family='"Liberation Serif", "Times New Roman", serif' font-size="5.95" fill="#000" stroke="#000" stroke-width="0.18">Dynamic NSGA-II</text>
<text x="297.00" y="257.50" font-family='"Liberation Serif", "Times New Roman", serif' font-size="5.95" fill="#000" stroke="#000" stroke-width="0.18">Dynamic NSGA-II-ERM</text>
<text x="284.15" y="295.80" font-family='"Liberation Serif", "Times New Roman", serif' font-size="14.8" text-anchor="middle" fill="#000" stroke="#000" stroke-width="0.08">(<tspan dx="0.6" font-size="14" font-weight="bold" stroke-width="0.05">e</tspan><tspan dx="0.6">)</tspan></text>
<clipPath id="clipf"><rect x="395.50" y="164.40" width="150.70" height="98.70"/></clipPath>
<g clip-path="url(#clipf)">
<polyline points="401.9,169.7 403.2,169.0 539.2,168.8" fill="none" stroke="#ff8c00" stroke-width="1.8" stroke-linejoin="round" stroke-linecap="round"/>
<polyline points="415.6,190.1 418.1,188.4 420.6,186.8 422.2,185.5 425.5,185.1 429.7,183.5 434.6,182.2 438.7,179.7 441.2,178.5 445.0,178.0 446.7,177.5 448.7,177.1 472.8,175.6 475.6,174.6 478.5,173.2 490.1,172.3 507.4,171.7 509.4,171.3 526.7,170.7 539.2,170.2" fill="none" stroke="#345ae1" stroke-width="1.4" stroke-linejoin="round" stroke-linecap="round"/>
<circle cx="402.6" cy="259.1" r="1.1" fill="#345ae1"/>
<circle cx="403.4" cy="257.4" r="1.1" fill="#345ae1"/>
<circle cx="404.5" cy="251.3" r="1.1" fill="#345ae1"/>
<circle cx="406.0" cy="241.8" r="1.1" fill="#345ae1"/>
<circle cx="406.6" cy="237.6" r="1.1" fill="#345ae1"/>
<circle cx="407.7" cy="231.2" r="1.1" fill="#345ae1"/>
<circle cx="408.7" cy="222.8" r="1.1" fill="#345ae1"/>
<circle cx="409.8" cy="213.1" r="1.1" fill="#345ae1"/>
<circle cx="410.2" cy="211.6" r="1.1" fill="#345ae1"/>
<circle cx="410.7" cy="207.7" r="1.1" fill="#345ae1"/>
<circle cx="411.5" cy="204.2" r="1.1" fill="#345ae1"/>
<circle cx="412.3" cy="201.7" r="1.1" fill="#345ae1"/>
<circle cx="412.8" cy="201.1" r="1.1" fill="#345ae1"/>
<circle cx="413.6" cy="197.8" r="1.1" fill="#345ae1"/>
<circle cx="414.5" cy="193.7" r="1.1" fill="#345ae1"/>
</g>
<rect x="395.50" y="164.40" width="150.70" height="98.70" fill="none" stroke="#606060" stroke-width="1.35"/>
<line x1="402.40" y1="263.10" x2="402.40" y2="265.10" stroke="#606060" stroke-width="0.8"/>
<text x="402.40" y="270.50" font-family='"Liberation Sans", "DejaVu Sans", sans-serif' font-size="5.0" text-anchor="middle" fill="#111" stroke="#111" stroke-width="0.28">0</text>
<line x1="419.60" y1="263.10" x2="419.60" y2="265.10" stroke="#606060" stroke-width="0.8"/>
<text x="419.60" y="270.50" font-family='"Liberation Sans", "DejaVu Sans", sans-serif' font-size="5.0" text-anchor="middle" fill="#111" stroke="#111" stroke-width="0.28">25</text>
<line x1="436.80" y1="263.10" x2="436.80" y2="265.10" stroke="#606060" stroke-width="0.8"/>
<text x="436.80" y="270.50" font-family='"Liberation Sans", "DejaVu Sans", sans-serif' font-size="5.0" text-anchor="middle" fill="#111" stroke="#111" stroke-width="0.28">50</text>
<line x1="454.00" y1="263.10" x2="454.00" y2="265.10" stroke="#606060" stroke-width="0.8"/>
<text x="454.00" y="270.50" font-family='"Liberation Sans", "DejaVu Sans", sans-serif' font-size="5.0" text-anchor="middle" fill="#111" stroke="#111" stroke-width="0.28">75</text>
<line x1="471.20" y1="263.10" x2="471.20" y2="265.10" stroke="#606060" stroke-width="0.8"/>
<text x="471.20" y="270.50" font-family='"Liberation Sans", "DejaVu Sans", sans-serif' font-size="5.0" text-anchor="middle" fill="#111" stroke="#111" stroke-width="0.28">100</text>
<line x1="488.40" y1="263.10" x2="488.40" y2="265.10" stroke="#606060" stroke-width="0.8"/>
<text x="488.40" y="270.50" font-family='"Liberation Sans", "DejaVu Sans", sans-serif' font-size="5.0" text-anchor="middle" fill="#111" stroke="#111" stroke-width="0.28">125</text>
<line x1="505.60" y1="263.10" x2="505.60" y2="265.10" stroke="#606060" stroke-width="0.8"/>
<text x="505.60" y="270.50" font-family='"Liberation Sans", "DejaVu Sans", sans-serif' font-size="5.0" text-anchor="middle" fill="#111" stroke="#111" stroke-width="0.28">150</text>
<line x1="522.80" y1="263.10" x2="522.80" y2="265.10" stroke="#606060" stroke-width="0.8"/>
<text x="522.80" y="270.50" font-family='"Liberation Sans", "DejaVu Sans", sans-serif' font-size="5.0" text-anchor="middle" fill="#111" stroke="#111" stroke-width="0.28">175</text>
<line x1="540.00" y1="263.10" x2="540.00" y2="265.10" stroke="#606060" stroke-width="0.8"/>
<text x="540.00" y="270.50" font-family='"Liberation Sans", "DejaVu Sans", sans-serif' font-size="5.0" text-anchor="middle" fill="#111" stroke="#111" stroke-width="0.28">200</text>
<line x1="393.50" y1="259.20" x2="395.50" y2="259.20" stroke="#606060" stroke-width="0.8"/>
<text x="392.70" y="261.10" font-family='"Liberation Sans", "DejaVu Sans", sans-serif' font-size="5.0" text-anchor="end" fill="#111" stroke="#111" stroke-width="0.28">0.0</text>
<line x1="393.50" y1="245.43" x2="395.50" y2="245.43" stroke="#606060" stroke-width="0.8"/>
<text x="392.70" y="247.33" font-family='"Liberation Sans", "DejaVu Sans", sans-serif' font-size="5.0" text-anchor="end" fill="#111" stroke="#111" stroke-width="0.28">0.1</text>
<line x1="393.50" y1="231.66" x2="395.50" y2="231.66" stroke="#606060" stroke-width="0.8"/>
<text x="392.70" y="233.56" font-family='"Liberation Sans", "DejaVu Sans", sans-serif' font-size="5.0" text-anchor="end" fill="#111" stroke="#111" stroke-width="0.28">0.2</text>
<line x1="393.50" y1="217.89" x2="395.50" y2="217.89" stroke="#606060" stroke-width="0.8"/>
<text x="392.70" y="219.79" font-family='"Liberation Sans", "DejaVu Sans", sans-serif' font-size="5.0" text-anchor="end" fill="#111" stroke="#111" stroke-width="0.28">0.3</text>
<line x1="393.50" y1="204.12" x2="395.50" y2="204.12" stroke="#606060" stroke-width="0.8"/>
<text x="392.70" y="206.02" font-family='"Liberation Sans", "DejaVu Sans", sans-serif' font-size="5.0" text-anchor="end" fill="#111" stroke="#111" stroke-width="0.28">0.4</text>
<line x1="393.50" y1="190.35" x2="395.50" y2="190.35" stroke="#606060" stroke-width="0.8"/>
<text x="392.70" y="192.25" font-family='"Liberation Sans", "DejaVu Sans", sans-serif' font-size="5.0" text-anchor="end" fill="#111" stroke="#111" stroke-width="0.28">0.5</text>
<line x1="393.50" y1="176.58" x2="395.50" y2="176.58" stroke="#606060" stroke-width="0.8"/>
<text x="392.70" y="178.48" font-family='"Liberation Sans", "DejaVu Sans", sans-serif' font-size="5.0" text-anchor="end" fill="#111" stroke="#111" stroke-width="0.28">0.6</text>
<text x="470.45" y="161.80" font-family='"Liberation Serif", "Times New Roman", serif' font-size="9.05" text-anchor="middle" fill="#000" stroke="#000" stroke-width="0.3">Convergence Curve</text>
<text x="470.85" y="277.80" font-family='"Liberation Serif", "Times New Roman", serif' font-size="6.9" text-anchor="middle" fill="#000" stroke="#000" stroke-width="0.2">Evaluations</text>
<text transform="translate(382.00,213.75) rotate(-90)" x="0" y="0" font-family='"Liberation Serif", "Times New Roman", serif' font-size="6.9" text-anchor="middle" fill="#000" stroke="#000" stroke-width="0.2">HyperVolume</text>
<rect x="462.90" y="241.80" width="80.6" height="19.4" rx="1.2" fill="#fff" fill-opacity="0.8" stroke="#d6d6d6" stroke-width="0.7"/>
<circle cx="471.10" cy="247.80" r="1.0" fill="#345ae1"/>
<circle cx="471.10" cy="256.30" r="1.0" fill="#ff8c00"/>
<text x="481.70" y="249.30" font-family='"Liberation Serif", "Times New Roman", serif' font-size="5.95" fill="#000" stroke="#000" stroke-width="0.18">Dynamic NSGA-II</text>
<text x="481.70" y="257.50" font-family='"Liberation Serif", "Times New Roman", serif' font-size="5.95" fill="#000" stroke="#000" stroke-width="0.18">Dynamic NSGA-II-ERM</text>
<text x="468.65" y="295.80" font-family='"Liberation Serif", "Times New Roman", serif' font-size="14.8" text-anchor="middle" fill="#000" stroke="#000" stroke-width="0.08">(<tspan dx="0.6" font-size="14" font-weight="bold" stroke-width="0.05">f</tspan><tspan dx="0.6">)</tspan></text>
</svg></body></html>
